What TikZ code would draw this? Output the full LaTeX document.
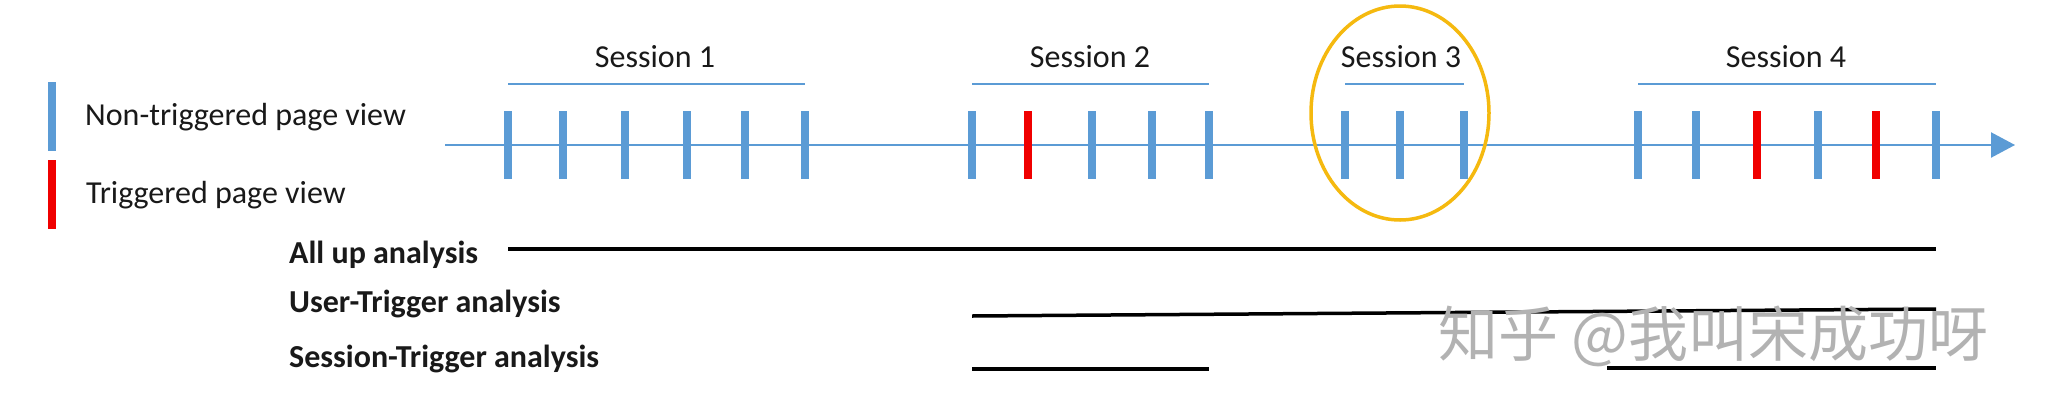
\documentclass[tikz,border=0pt]{standalone}
\usepackage{fontspec}
\setmainfont{Carlito}
\newfontfamily\cjkfont{Noto Sans CJK SC}
\usetikzlibrary{arrows.meta,shapes.geometric}
\definecolor{pvblue}{RGB}{91,155,213}
\definecolor{pvred}{RGB}{240,0,0}
\definecolor{ringgold}{RGB}{245,185,15}
\begin{document}
\begin{tikzpicture}[x=1pt,y=-1pt,
    pv_node/.style={rectangle,fill=pvblue,minimum width=8pt,minimum height=68pt,inner sep=0pt},
    trig_node/.style={pv_node,fill=pvred},
    label_node/.style={inner sep=0pt,font=\fontsize{32}{38}\selectfont,text=black!90},
    bold_node/.style={label_node,font=\fontsize{32}{38}\selectfont\bfseries},
    sess_line/.style={pvblue,line width=1.8pt},
    span_line/.style={black,line width=3.5pt}]
    \useasboundingbox[fill=white] (0,0) rectangle (2048,416);
    % legend
    \node[pv_node,minimum height=69pt] (leg1) at (52,116) {};
    \node[trig_node,minimum height=69pt] (leg2) at (52,194) {};
    \node[label_node,anchor=base west] (legt1) at (85,125) {Non-triggered page view};
    \node[label_node,anchor=base west] (legt2) at (86,203) {Triggered page view};
    % time axis
    \coordinate (tstart) at (445,145);
    \coordinate (tend) at (2015,145);
    \draw[pvblue,line width=2.2pt,-{Triangle[length=24pt,width=25pt]}] (tstart) -- (tend);
    % session 1
    \node[pv_node] (p1) at (508,145) {};
    \node[pv_node] (p2) at (563,145) {};
    \node[pv_node] (p3) at (625,145) {};
    \node[pv_node] (p4) at (687,145) {};
    \node[pv_node] (p5) at (745,145) {};
    \node[pv_node] (p6) at (805,145) {};
    % session 2
    \node[pv_node] (p7) at (972,145) {};
    \node[trig_node] (p8) at (1028,145) {};
    \node[pv_node] (p9) at (1092,145) {};
    \node[pv_node] (p10) at (1152,145) {};
    \node[pv_node] (p11) at (1209,145) {};
    % session 3
    \node[pv_node] (p12) at (1345,145) {};
    \node[pv_node] (p13) at (1400,145) {};
    \node[pv_node] (p14) at (1464,145) {};
    % session 4
    \node[pv_node] (p15) at (1638,145) {};
    \node[pv_node] (p16) at (1696,145) {};
    \node[trig_node] (p17) at (1757,145) {};
    \node[pv_node] (p18) at (1818,145) {};
    \node[trig_node] (p19) at (1876,145) {};
    \node[pv_node] (p20) at (1936,145) {};
    % session bars and names
    \draw[sess_line] (p1.center |- 0,84) -- (p6.center |- 0,84);
    \draw[sess_line] (p7.center |- 0,84) -- (p11.center |- 0,84);
    \draw[sess_line] (p12.center |- 0,84) -- (p14.center |- 0,84);
    \draw[sess_line] (p15.center |- 0,84) -- (p20.center |- 0,84);
    \node[label_node,anchor=base] (s1) at (655,67) {Session 1};
    \node[label_node,anchor=base] (s2) at (1090,67) {Session 2};
    \node[label_node,anchor=base] (s3) at (1401,67) {Session 3};
    \node[label_node,anchor=base] (s4) at (1786,67) {Session 4};
    \node[draw=ringgold,line width=3.5pt,ellipse,minimum width=178pt,minimum height=214pt] (ring) at (1400,113) {};
    % analysis rows
    \node[bold_node,anchor=base west] (allup) at (289,263) {All up analysis};
    \node[bold_node,anchor=base west] (usertrig) at (289,312) {User-Trigger analysis};
    \node[bold_node,anchor=base west] (sesstrig) at (289,367) {Session-Trigger analysis};
    \coordinate (a1) at (508,249);
    \coordinate (a2) at (1936,249);
    \coordinate (u1) at (972,316);
    \coordinate (u2) at (1936,309);
    \coordinate (r1) at (972,369);
    \coordinate (r2) at (1209,369);
    \coordinate (r3) at (1607,368);
    \coordinate (r4) at (1936,368);
    \draw[span_line] (a1) -- (a2);
    \draw[span_line] (u1) -- (u2);
    \draw[span_line] (r1) -- (r2);
    \draw[span_line] (r3) -- (r4);
    % watermark
    \node[inner sep=0pt,anchor=base west,text=black!30,font=\fontsize{60}{62}\selectfont\cjkfont] (mark) at (1438,356) {知乎 @我叫宋成功呀};
\end{tikzpicture}
\end{document}
